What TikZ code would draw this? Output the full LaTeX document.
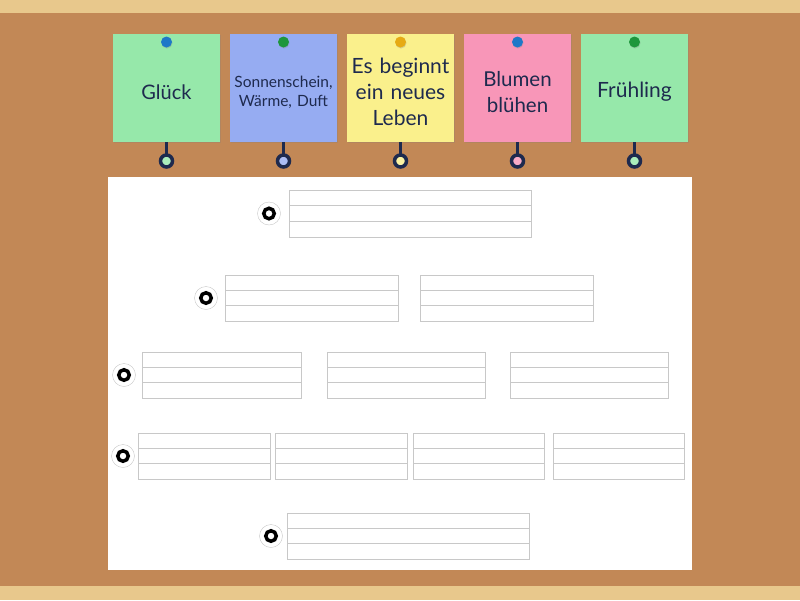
\documentclass[tikz,border=0pt]{standalone}
\usepackage{fontspec}
\setmainfont{Lato}
\usepackage{tikz}
\usetikzlibrary{positioning, calc, shadows}

\definecolor{cork}{RGB}{194,136,86}
\definecolor{frame}{RGB}{232,200,140}
\definecolor{ink}{RGB}{30,42,78}
\definecolor{notegreen}{RGB}{150,232,170}
\definecolor{noteblue}{RGB}{150,172,242}
\definecolor{noteyellow}{RGB}{250,240,140}
\definecolor{notepink}{RGB}{248,150,184}
\definecolor{pinblue}{RGB}{30,120,200}
\definecolor{pingreen}{RGB}{30,150,60}
\definecolor{pinyellow}{RGB}{230,170,20}
\definecolor{slotline}{RGB}{200,200,200}

\begin{document}
\begin{tikzpicture}
    [x=1pt, y=-1pt, outer sep = 0pt,
     note/.style={rectangle, minimum width = 107pt, minimum height = 108pt, inner sep = 0pt,
       drop shadow={opacity=0.25, shadow xshift=1pt, shadow yshift=-1pt}},
     notetext/.style={text width = 104pt, align = center, text = ink, inner sep = 0pt},
     pin/.style={circle, minimum size = 11pt, inner sep = 0pt,
       drop shadow={opacity=0.3, shadow xshift=0.5pt, shadow yshift=-1pt}},
     hook/.style={circle, draw = ink, line width = 3.5pt, minimum size = 12pt, inner sep = 0pt},
     slot/.style={rectangle, draw = slotline, fill = white, inner sep = 0pt, anchor = north west},
     radio/.style={circle, draw = slotline, fill = white, minimum size = 23pt, inner sep = 0pt},
     ring/.style={circle, draw = black, line width = 3.5pt, minimum size = 10.5pt, inner sep = 0pt}]

    % board
    \fill [cork] (0,0) rectangle (800,600);
    \fill [frame] (0,0) rectangle (800,13);
    \fill [frame] (0,586) rectangle (800,600);
    \useasboundingbox (0,0) rectangle (800,600);

    % sticky notes with pins and hooks
    \foreach \n/\x/\col/\pcol/\size/\lead/\txt in {
        1/166.5/notegreen/pinblue/20/25/{Glück},
        2/283.5/noteblue/pingreen/15.5/19/{Sonnenschein,\\Wärme, Duft},
        3/400.5/noteyellow/pinyellow/21/26/{Es beginnt\\ein neues\\Leben},
        4/517.5/notepink/pinblue/20.5/26/{Blumen\\blühen},
        5/634.5/notegreen/pingreen/21/26/{Frühling}} {
      \node (note-\n) [note, fill = \col] at (\x,88) {};
      \node (text-\n) [notetext, font = \fontsize{\size}{\lead}\selectfont] at (\x,92) {\txt};
      \node (pin-\n) [pin, fill = \pcol] at (\x,42) {};
      \node (hook-\n) [hook, fill = \col!80] at (\x,161) {};
      \draw [ink, line width = 3.5pt] (note-\n.south) -- (hook-\n.north);
    }

    % answer sheet
    \fill [white] (108,177) rectangle (692,570);

    % slots, row by row
    \foreach \r/\y/\h/\rx/\list in {
        1/190/47/269/{289/242},
        2/275/46/206/{225/173, 420/173},
        3/352/46/124/{142/159, 327/158, 510/158},
        4/433/46/123/{138/132, 275/132, 413/131, 553/131},
        5/513/46/271/{287/242}} {
      \node (radio-\r) [radio] at (\rx,\y+\h/2) {};
      \node [ring] at (radio-\r) {};
      \foreach \sx/\w [count=\c] in \list {
        \node (slot-\r-\c) [slot, minimum width = \w pt, minimum height = \h pt] at (\sx,\y) {};
        \draw [slotline] ($(slot-\r-\c.north west)!1/3!(slot-\r-\c.south west)$)
          -- ($(slot-\r-\c.north east)!1/3!(slot-\r-\c.south east)$);
        \draw [slotline] ($(slot-\r-\c.north west)!2/3!(slot-\r-\c.south west)$)
          -- ($(slot-\r-\c.north east)!2/3!(slot-\r-\c.south east)$);
      }
    }
\end{tikzpicture}
\end{document}
